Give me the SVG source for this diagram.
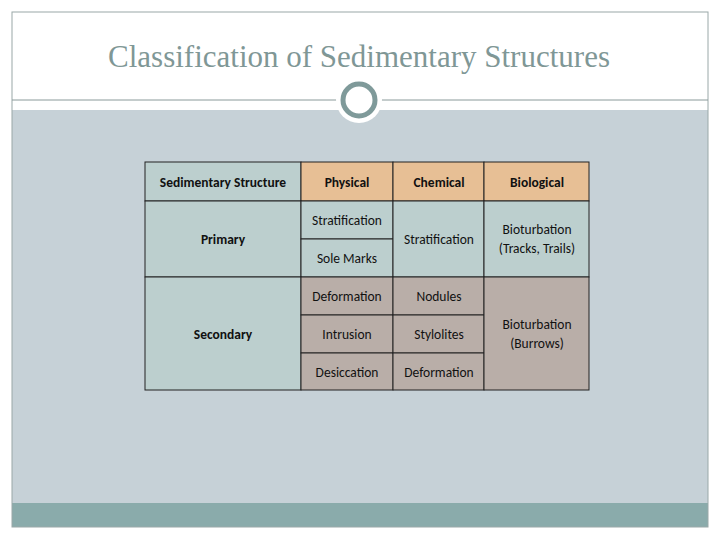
<svg xmlns="http://www.w3.org/2000/svg" width="720" height="540" viewBox="0 0 720 540">
<style>
.c{stroke:#222;stroke-width:1}
.t{font-family:Carlito,"Liberation Sans",sans-serif;font-size:13.5px;fill:#111;text-anchor:middle}
.b{font-weight:bold}
</style>
<rect width="720" height="540" fill="#fff"/>
<rect x="12" y="110" width="696" height="394" fill="#c6d1d7"/>
<rect x="12" y="503" width="696" height="24" fill="#8aabab"/>
<rect x="12" y="12" width="696" height="515" fill="none" stroke="#9aa8a8" stroke-width="1"/>
<line x1="12" y1="100" x2="708" y2="100" stroke="#8a9a9a" stroke-width="1"/>
<circle cx="359" cy="100" r="23" fill="#fff"/>
<circle cx="359" cy="100" r="16" fill="#fff" stroke="#7f9a9a" stroke-width="5"/>
<text x="359" y="67" font-family="Liberation Serif,serif" font-size="31" fill="#7f9796" text-anchor="middle">Classification of Sedimentary Structures</text>
<g id="table">
<rect class="c" x="145" y="162" width="156" height="39" fill="#bccfce"/>
<rect class="c" x="301" y="162" width="92" height="39" fill="#e7bf95"/>
<rect class="c" x="393" y="162" width="91" height="39" fill="#e7bf95"/>
<rect class="c" x="484" y="162" width="105" height="39" fill="#e7bf95"/>
<rect class="c" x="145" y="201" width="156" height="76" fill="#bccfce"/>
<rect class="c" x="301" y="201" width="92" height="38" fill="#bccfce"/>
<rect class="c" x="301" y="239" width="92" height="38" fill="#bccfce"/>
<rect class="c" x="393" y="201" width="91" height="76" fill="#bccfce"/>
<rect class="c" x="484" y="201" width="105" height="76" fill="#bccfce"/>
<rect class="c" x="145" y="277" width="156" height="113" fill="#bccfce"/>
<rect class="c" x="301" y="277" width="92" height="38" fill="#b9aea8"/>
<rect class="c" x="301" y="315" width="92" height="38" fill="#b9aea8"/>
<rect class="c" x="301" y="353" width="92" height="37" fill="#b9aea8"/>
<rect class="c" x="393" y="277" width="91" height="38" fill="#b9aea8"/>
<rect class="c" x="393" y="315" width="91" height="38" fill="#b9aea8"/>
<rect class="c" x="393" y="353" width="91" height="37" fill="#b9aea8"/>
<rect class="c" x="484" y="277" width="105" height="113" fill="#b9aea8"/>
<text class="t b" x="223" y="187">Sedimentary Structure</text>
<text class="t b" x="347" y="187">Physical</text>
<text class="t b" x="439" y="187">Chemical</text>
<text class="t b" x="537" y="187">Biological</text>
<text class="t b" x="223" y="244">Primary</text>
<text class="t b" x="223" y="339">Secondary</text>
<text class="t" x="347" y="225">Stratification</text>
<text class="t" x="347" y="263">Sole Marks</text>
<text class="t" x="439" y="244">Stratification</text>
<text class="t" x="537" y="234">Bioturbation</text>
<text class="t" x="537" y="253">(Tracks, Trails)</text>
<text class="t" x="347" y="301">Deformation</text>
<text class="t" x="347" y="339">Intrusion</text>
<text class="t" x="347" y="377">Desiccation</text>
<text class="t" x="439" y="301">Nodules</text>
<text class="t" x="439" y="339">Stylolites</text>
<text class="t" x="439" y="377">Deformation</text>
<text class="t" x="537" y="329">Bioturbation</text>
<text class="t" x="537" y="348">(Burrows)</text>
</g>
</svg>
